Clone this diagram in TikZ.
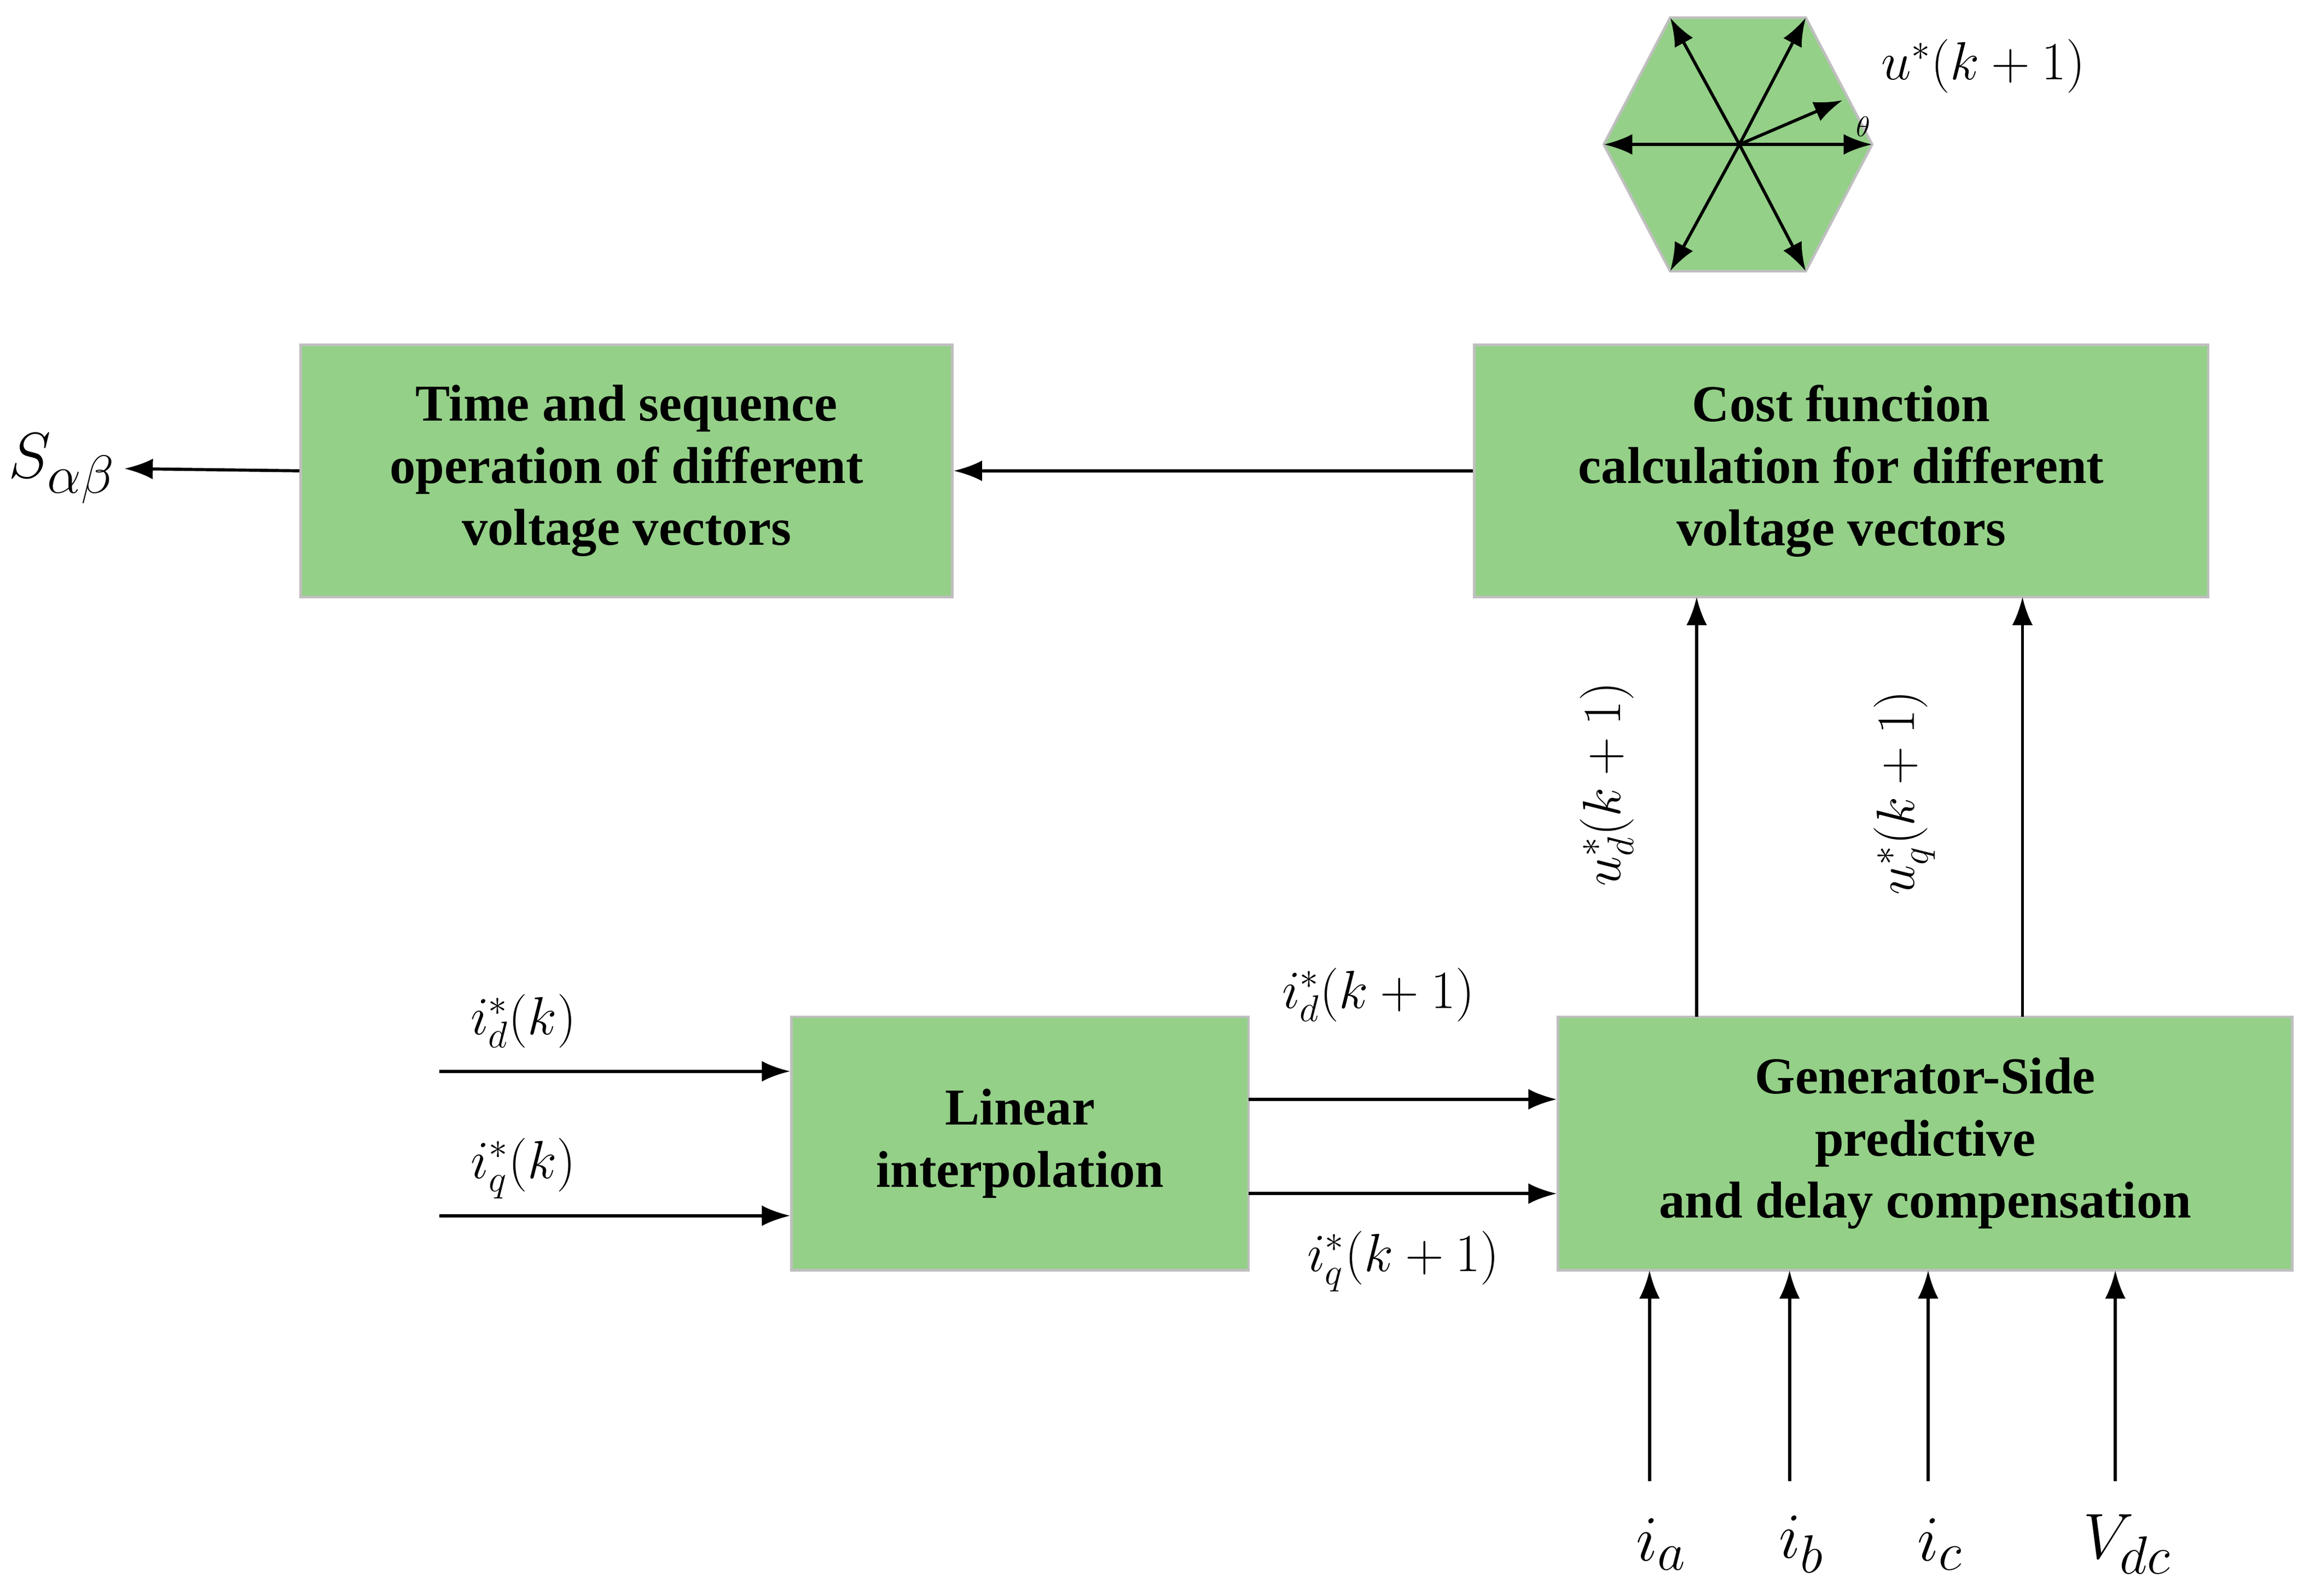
\documentclass[tikz,border=0pt]{standalone}
\usepackage{fontspec}
\setmainfont{Liberation Serif}
\usetikzlibrary{arrows.meta}
\begin{document}
\begin{tikzpicture}[x=0.02cm,y=-0.02cm,
  box/.style={draw=black!25,line width=1pt,fill=gfill,inner sep=0pt,align=center,font=\fontsize{20}{24}\selectfont\bfseries},
  arr/.style={-{Latex[length=11pt,width=8pt]},line width=1.2pt},
  lab/.style={font=\fontsize{20}{24}\selectfont},
  big/.style={font=\fontsize{28}{32}\selectfont}]
\definecolor{gfill}{RGB}{148,208,136}
\useasboundingbox (0,0) rectangle (1563,1083);
\node[box,minimum width=442*0.02cm,minimum height=171*0.02cm] (time) at (425,319.5) {Time and sequence\\operation of different\\voltage vectors};
\node[box,minimum width=498*0.02cm,minimum height=171*0.02cm] (cost) at (1249,319.5) {Cost function\\calculation for different\\voltage vectors};
\node[box,minimum width=310*0.02cm,minimum height=172*0.02cm] (lin) at (692,776) {Linear\\interpolation};
\node[box,minimum width=498*0.02cm,minimum height=172*0.02cm] (gen) at (1306,776) {Generator-Side\\predictive\\and delay compensation};
% hexagon
\coordinate (hc) at (1180,98);
\coordinate (v1) at (1270,98); \coordinate (v2) at (1225,12); \coordinate (v3) at (1133,12);
\coordinate (v4) at (1088,98); \coordinate (v5) at (1133,184); \coordinate (v6) at (1225,184);
\fill[gfill,draw=black!25,line width=1pt] (v1)--(v2)--(v3)--(v4)--(v5)--(v6)--cycle;
\foreach \v in {v1,v2,v3,v4,v5,v6} \draw[arr] (hc)--(\v);
\coordinate (vu) at (1250,68);
\draw[arr] (hc)--(vu);
\node[font=\fontsize{11}{12}\selectfont] (th) at (1264,86) {$\theta$};
\node[lab,anchor=west] (ulab) at (1270,45) {$u^{*}(k+1)$};
% S
\node[big] (S) at (42,318) {$S_{\alpha\beta}$};
\draw[arr] (time.west) -- (S.east);
\draw[arr] (cost.west) -- (time.east);
% vertical
\coordinate (gd) at (1151,690); \coordinate (cd) at (1151,405);
\coordinate (gq) at (1372,690); \coordinate (cq) at (1372,405);
\draw[arr] (gd)--(cd); \draw[arr] (gq)--(cq);
\node[lab,rotate=90] (ud) at (1090,532) {$u_d^{*}(k+1)$};
\node[lab,rotate=90] (uq) at (1292,538) {$u_q^{*}(k+1)$};
% inputs
\coordinate (id0) at (298,727); \coordinate (iq0) at (298,825);
\draw[arr] (id0)--(lin.west|-id0); \draw[arr] (iq0)--(lin.west|-iq0);
\node[lab] (idl) at (355,693) {$i_d^{*}(k)$};
\node[lab] (iql) at (355,793) {$i_q^{*}(k)$};
\coordinate (a1) at (847,746); \coordinate (a2) at (847,810);
\draw[arr] (a1)--(gen.west|-a1); \draw[arr] (a2)--(gen.west|-a2);
\node[lab] (id1) at (935,675) {$i_d^{*}(k+1)$};
\node[lab] (iq1) at (952,856) {$i_q^{*}(k+1)$};
% bottom
\foreach \x/\t/\n in {1119/i_a/ia,1214/i_b/ib,1308/i_c/ic,1435/V_{dc}/vdc}{
  \coordinate (b\n) at (\x,1005);
  \draw[arr] (b\n)--(\x,862);
  \node[big] (\n) at (\x+8,1048) {$\t$};
}
\end{tikzpicture}
\end{document}
